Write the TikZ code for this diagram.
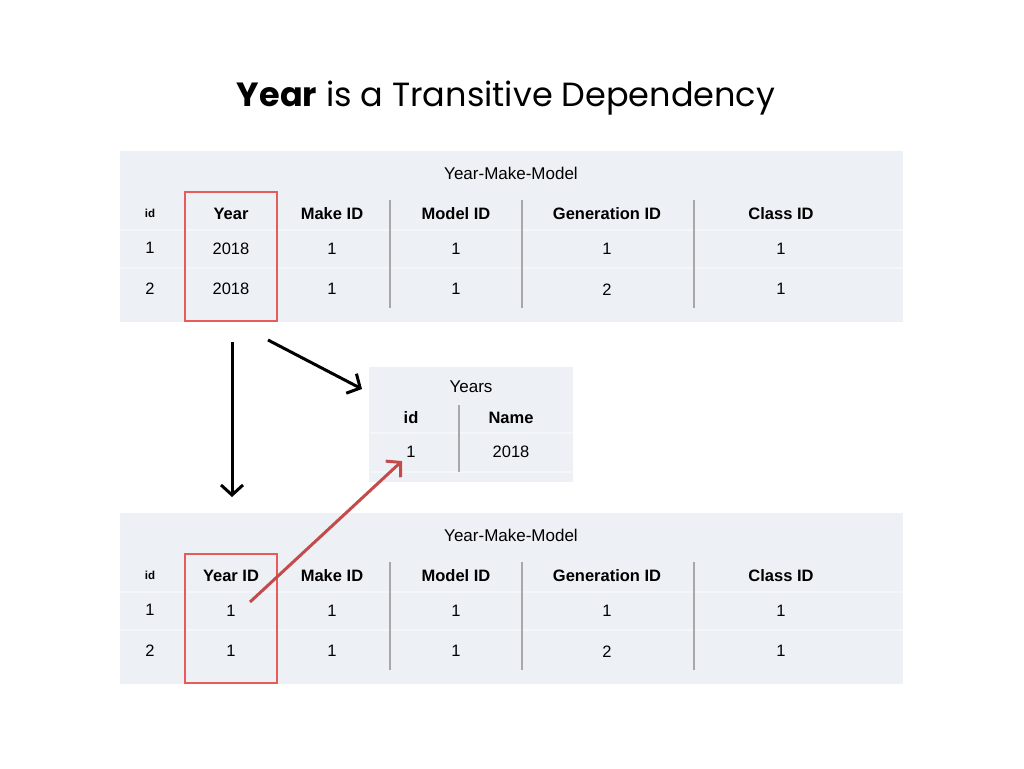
\documentclass[tikz,border=0pt]{standalone}
\usepackage{fontspec}
\setmainfont{Liberation Sans}
\newfontfamily\titlefont{Poppins}
\usetikzlibrary{arrows.meta}
\definecolor{tbg}{HTML}{EDF1F5}
\definecolor{tsep}{HTML}{F4F6F9}
\definecolor{redbox}{HTML}{E85B5B}
\definecolor{redarrow}{HTML}{C44B4B}
\definecolor{divgray}{HTML}{A8A8A8}
\tikzset{
  tabbg/.style={fill=tbg, draw=none},
  sepline/.style={draw=tsep, line width=1.2pt},
  divline/.style={draw=divgray, line width=1.4pt},
  hilite/.style={draw=redbox, line width=2.8pt},
  tabtitle/.style={font=\fontsize{17}{20}\selectfont, inner sep=0pt},
  hdr/.style={font=\fontsize{16.5}{20}\selectfont\bfseries, inner sep=0pt},
  smallhdr/.style={font=\fontsize{11.5}{13}\selectfont\bfseries, inner sep=0pt},
  cell/.style={font=\fontsize{16.5}{20}\selectfont, inner sep=0pt},
  blackarrow/.style={draw=black, line width=3pt, -{Straight Barb[length=10pt,width=22pt,line width=3pt]}},
  redconn/.style={draw=redarrow, line width=3pt, -{Straight Barb[length=10pt,width=22pt,line width=3pt]}},
  pics/ymm/.style n args={3}{code={
    \path[tabbg] (0,0) rectangle (783,171);
    \node[tabtitle] (-title) at (391,22) {Year-Make-Model};
    \path[sepline] (0,79) -- (783,79);
    \path[sepline] (0,117) -- (783,117);
    \path[divline] (270,49) -- (270,157);
    \path[divline] (402,49) -- (402,157);
    \path[divline] (574,49) -- (574,157);
    \node[smallhdr] (-hid) at (30,62) {id};
    \node[hdr] (-hyear) at (111,63) {#1};
    \node[hdr] (-hmake) at (212,63) {Make ID};
    \node[hdr] (-hmodel) at (336,63) {Model ID};
    \node[hdr] (-hgen) at (487,63) {Generation ID};
    \node[hdr] (-hclass) at (661,63) {Class ID};
    \node[cell] (-aid) at (30,97) {1};
    \node[cell] (-ayear) at (111,98) {#2};
    \node[cell] (-amake) at (212,98) {1};
    \node[cell] (-amodel) at (336,98) {1};
    \node[cell] (-agen) at (487,98) {1};
    \node[cell] (-aclass) at (661,98) {1};
    \node[cell] (-bid) at (30,138) {2};
    \node[cell] (-byear) at (111,138) {#3};
    \node[cell] (-bmake) at (212,138) {1};
    \node[cell] (-bmodel) at (336,138) {1};
    \node[cell] (-bgen) at (487,139) {2};
    \node[cell] (-bclass) at (661,138) {1};
    \path[hilite] (65,41) rectangle (157,170);
  }}
}
\begin{document}
\begin{tikzpicture}[x=1pt,y=-1pt]
\useasboundingbox[fill=white] (0,0) rectangle (1024,768);

% title
\node[anchor=base, inner sep=0pt, font=\titlefont\fontsize{33.5}{40}\selectfont] (title) at (506,106)
  {\textbf{Year} is a Transitive Dependency};

% top table
\pic (top) at (120,151) {ymm={Year}{2018}{2018}};

% Years table
\path[tabbg] (369,367) rectangle (573,482);
\node[tabtitle] (ytitle) at (471,387) {Years};
\path[sepline] (370,433) -- (572,433);
\path[sepline] (370,472) -- (572,472);
\path[divline] (459,405) -- (459,472);
\node[hdr] (yhid) at (411,418) {id};
\node[hdr] (yhname) at (511,418) {Name};
\node[cell] (yid) at (411,452) {1};
\node[cell] (yname) at (511,452) {2018};

% bottom table
\pic (bot) at (120,513) {ymm={Year ID}{1}{1}};

% arrows
\coordinate (vs) at (232,342);
\coordinate (ve) at (232,497);
\coordinate (ds) at (268,340);
\coordinate (de) at (362,389);
\coordinate (rs) at (250,602);
\coordinate (re) at (402,461);
\draw[blackarrow] (vs) -- (ve);
\draw[blackarrow] (ds) -- (de);
\draw[redconn] (rs) -- (re);
\end{tikzpicture}
\end{document}
